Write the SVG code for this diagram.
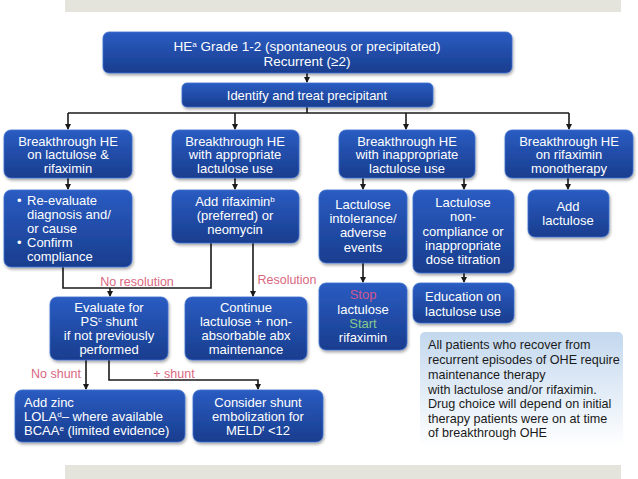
<svg xmlns="http://www.w3.org/2000/svg" width="638" height="479" viewBox="0 0 638 479">
<defs>
<linearGradient id="boxg" x1="0" y1="0" x2="0" y2="1">
<stop offset="0" stop-color="#2a5cc2"/>
<stop offset="1" stop-color="#193d8e"/>
</linearGradient>
<linearGradient id="noteg" x1="0" y1="0" x2="0" y2="1">
<stop offset="0" stop-color="#c3d8ee"/>
<stop offset="1" stop-color="#ffffff"/>
</linearGradient>
<filter id="sh" x="-10%" y="-10%" width="130%" height="140%">
<feDropShadow dx="1" dy="2" stdDeviation="1.5" flood-color="#000" flood-opacity="0.35"/>
</filter>
<marker id="ah" markerWidth="6" markerHeight="6" refX="5" refY="3" orient="auto" markerUnits="userSpaceOnUse">
<path d="M0,0 L6,3 L0,6 Z" fill="#1a1a1a"/>
</marker>
<style>
.box{fill:url(#boxg);stroke:#3b6fd0;stroke-width:0.8;filter:url(#sh)}
.t{font-family:"Liberation Sans",Arial,sans-serif;font-size:13px;fill:#fff;text-anchor:middle}
.tl{font-family:"Liberation Sans",Arial,sans-serif;font-size:13px;fill:#fff}
.lab{font-family:"Liberation Sans",Arial,sans-serif;font-size:12.5px;fill:#d9687f}
.note{font-family:"Liberation Sans",Arial,sans-serif;font-size:12.6px;fill:#1a1a1a}
.c{fill:none;stroke:#1a1a1a;stroke-width:1.6}
.bar{fill:#e4e4dc}
</style>
</defs>
<rect x="0" y="0" width="638" height="479" fill="#fff"/>
<rect class="bar" x="65" y="0" width="556" height="12"/>
<rect class="bar" x="65" y="465" width="556" height="14"/>

<g id="connectors">
<path class="c" d="M307,73 V82" marker-end="url(#ah)"/>
<path class="c" d="M307,107 V113"/>
<path class="c" d="M68,113 H569"/>
<path class="c" d="M68,113 V129" marker-end="url(#ah)"/>
<path class="c" d="M235,113 V129" marker-end="url(#ah)"/>
<path class="c" d="M406,113 V129" marker-end="url(#ah)"/>
<path class="c" d="M569,113 V129" marker-end="url(#ah)"/>
<path class="c" d="M68,178 V189" marker-end="url(#ah)"/>
<path class="c" d="M235,178 V189" marker-end="url(#ah)"/>
<path class="c" d="M363,178 V189" marker-end="url(#ah)"/>
<path class="c" d="M464,178 V189" marker-end="url(#ah)"/>
<path class="c" d="M568,178 V189" marker-end="url(#ah)"/>
<path class="c" d="M363,263 V282" marker-end="url(#ah)"/>
<path class="c" d="M464,273 V282" marker-end="url(#ah)"/>
<path class="c" d="M63,267 V288 H211 V243"/>
<path class="c" d="M110,288 V296" marker-end="url(#ah)"/>
<path class="c" d="M253,243 V296" marker-end="url(#ah)"/>
<path class="c" d="M86,360 V389" marker-end="url(#ah)"/>
<path class="c" d="M109,360 V380 H258 V389" marker-end="url(#ah)"/>
<text class="lab" x="137" y="286" text-anchor="middle">No resolution</text>
<text class="lab" x="287" y="284" text-anchor="middle">Resolution</text>
<text class="lab" x="56" y="378" text-anchor="middle">No shunt</text>
<text class="lab" x="174" y="378" text-anchor="middle">+ shunt</text>
</g>

<g id="n-top">
<rect class="box" x="103" y="32" width="409" height="41" rx="6"/>
<text class="t" x="307" y="51" style="font-size:13.5px">HE<tspan font-size="8" dy="-4">a</tspan><tspan dy="4"> Grade 1-2 (spontaneous or precipitated)</tspan></text>
<text class="t" x="307" y="65.5" style="font-size:13.5px">Recurrent (≥2)</text>
</g>
<g id="n-identify">
<rect class="box" x="182" y="83" width="251" height="24" rx="5"/>
<text class="t" x="307" y="99.5">Identify and treat precipitant</text>
</g>

<g id="n-b1">
<rect class="box" x="4" y="130" width="128" height="48" rx="7"/>
<text class="t" x="68" y="145.5">Breakthrough HE</text>
<text class="t" x="68" y="159">on lactulose &amp;</text>
<text class="t" x="68" y="172.5">rifaximin</text>
</g>
<g id="n-b2">
<rect class="box" x="172" y="130" width="127" height="48" rx="7"/>
<text class="t" x="235" y="145.5">Breakthrough HE</text>
<text class="t" x="235" y="159">with appropriate</text>
<text class="t" x="235" y="172.5">lactulose use</text>
</g>
<g id="n-b3">
<rect class="box" x="339" y="130" width="136" height="48" rx="7"/>
<text class="t" x="407" y="145.5">Breakthrough HE</text>
<text class="t" x="407" y="159">with inappropriate</text>
<text class="t" x="407" y="172.5">lactulose use</text>
</g>
<g id="n-b4">
<rect class="box" x="505" y="130" width="128" height="48" rx="7"/>
<text class="t" x="569" y="145.5">Breakthrough HE</text>
<text class="t" x="569" y="159">on rifaximin</text>
<text class="t" x="569" y="172.5">monotherapy</text>
</g>

<g id="n-reevaluate">
<rect class="box" x="4" y="190" width="128" height="77" rx="7"/>
<text class="tl" x="17" y="205">•</text>
<text class="tl" x="27" y="205">Re-evaluate</text>
<text class="tl" x="27" y="219">diagnosis and/</text>
<text class="tl" x="27" y="233">or cause</text>
<text class="tl" x="17" y="247">•</text>
<text class="tl" x="27" y="247">Confirm</text>
<text class="tl" x="27" y="261">compliance</text>
</g>
<g id="n-addrif">
<rect class="box" x="172" y="190" width="127" height="53" rx="7"/>
<text class="t" x="235" y="206">Add rifaximin<tspan font-size="8" dy="-4">b</tspan></text>
<text class="t" x="235" y="220">(preferred) or</text>
<text class="t" x="235" y="234">neomycin</text>
</g>
<g id="n-intol">
<rect class="box" x="319" y="190" width="88" height="73" rx="7"/>
<text class="t" x="363" y="209">Lactulose</text>
<text class="t" x="363" y="223">intolerance/</text>
<text class="t" x="363" y="237">adverse</text>
<text class="t" x="363" y="251.5">events</text>
</g>
<g id="n-noncomp">
<rect class="box" x="413" y="190" width="101" height="83" rx="7"/>
<text class="t" x="463" y="207">Lactulose</text>
<text class="t" x="463" y="221">non-</text>
<text class="t" x="463" y="235.5">compliance or</text>
<text class="t" x="463" y="250">inappropriate</text>
<text class="t" x="463" y="263.5">dose titration</text>
</g>
<g id="n-addlac">
<rect class="box" x="528" y="190" width="81" height="47" rx="7"/>
<text class="t" x="568" y="211">Add</text>
<text class="t" x="568" y="225">lactulose</text>
</g>

<g id="n-stop">
<rect class="box" x="319" y="283" width="88" height="67" rx="7"/>
<text class="t" x="363" y="299" style="fill:#d2568e">Stop</text>
<text class="t" x="363" y="314">lactulose</text>
<text class="t" x="363" y="327.5" style="fill:#86c98a">Start</text>
<text class="t" x="363" y="342">rifaximin</text>
</g>
<g id="n-edu">
<rect class="box" x="413" y="283" width="101" height="40" rx="7"/>
<text class="t" x="463" y="301">Education on</text>
<text class="t" x="463" y="316">lactulose use</text>
</g>

<g id="n-evaluate">
<rect class="box" x="50" y="297" width="118" height="63" rx="7"/>
<text class="t" x="109" y="312">Evaluate for</text>
<text class="t" x="109" y="326">PS<tspan font-size="8" dy="-4">c</tspan><tspan dy="4"> shunt</tspan></text>
<text class="t" x="109" y="340">if not previously</text>
<text class="t" x="109" y="354">performed</text>
</g>
<g id="n-continue">
<rect class="box" x="185" y="297" width="122" height="63" rx="7"/>
<text class="t" x="246" y="312">Continue</text>
<text class="t" x="246" y="326">lactulose + non-</text>
<text class="t" x="246" y="340">absorbable abx</text>
<text class="t" x="246" y="354">maintenance</text>
</g>
<g id="n-zinc">
<rect class="box" x="15" y="390" width="170" height="52" rx="7"/>
<text class="tl" x="24" y="407">Add zinc</text>
<text class="tl" x="24" y="421">LOLA<tspan font-size="8" dy="-4">d</tspan><tspan dy="4">– where available</tspan></text>
<text class="tl" x="24" y="435">BCAA<tspan font-size="8" dy="-4">e</tspan><tspan dy="4"> (limited evidence)</tspan></text>
</g>
<g id="n-embol">
<rect class="box" x="193" y="390" width="130" height="52" rx="7"/>
<text class="t" x="258" y="407">Consider shunt</text>
<text class="t" x="258" y="421">embolization for</text>
<text class="t" x="258" y="435">MELD<tspan font-size="8" dy="-4">f</tspan><tspan dy="4"> &lt;12</tspan></text>
</g>

<g id="n-note">
<rect x="420" y="332" width="203" height="115" rx="5" fill="url(#noteg)"/>
<text class="note" x="428" y="349">All patients who recover from</text>
<text class="note" x="428" y="364">recurrent episodes of OHE require</text>
<text class="note" x="428" y="379">maintenance therapy</text>
<text class="note" x="428" y="393.5">with lactulose and/or rifaximin.</text>
<text class="note" x="428" y="408">Drug choice will depend on initial</text>
<text class="note" x="428" y="422.5">therapy patients were on at time</text>
<text class="note" x="428" y="437">of breakthrough OHE</text>
</g>
</svg>
